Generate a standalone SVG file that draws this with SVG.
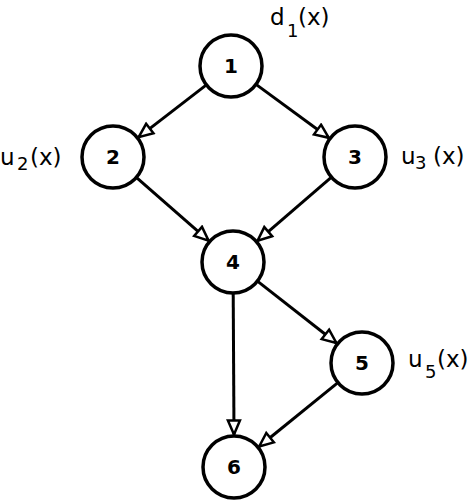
<svg xmlns="http://www.w3.org/2000/svg" width="474" height="502" viewBox="0 0 474 502">
<style>
.n circle{fill:#fff;stroke:#000;stroke-width:3.5}
.n text{font-family:"DejaVu Sans",sans-serif;font-weight:bold;font-size:20px;text-anchor:middle}
.e line{stroke:#000;stroke-width:3;marker-end:url(#a)}
.l text{font-family:"DejaVu Sans",sans-serif;font-size:23px}
.l text.s{font-size:18px}
</style>
<defs>
<marker id="a" markerUnits="userSpaceOnUse" viewBox="-2 -2 18 16" markerWidth="18" markerHeight="16" refX="14" refY="6" orient="auto">
<path d="M0,0 L14,6 L0,12 z" fill="#fff" stroke="#000" stroke-width="2.5"/>
</marker>
</defs>
<g id="edges" class="e">
<line x1="206.4" y1="84.9" x2="138.7" y2="137.1"/>
<line x1="256" y1="84.4" x2="328.8" y2="137.8"/>
<line x1="136.3" y1="177.4" x2="208.6" y2="240.6"/>
<line x1="331.5" y1="177.2" x2="257.6" y2="240.8"/>
<line x1="257.4" y1="281.1" x2="336.4" y2="343"/>
<line x1="233.2" y1="293" x2="234" y2="434.5"/>
<line x1="337.9" y1="382.6" x2="259.2" y2="446.5"/>
</g>
<g id="node1" class="n"><circle cx="231" cy="66" r="31"/><text x="231" y="73">1</text></g>
<g id="node2" class="n"><circle cx="113" cy="157" r="31"/><text x="113" y="164">2</text></g>
<g id="node3" class="n"><circle cx="355" cy="157" r="31"/><text x="355" y="164">3</text></g>
<g id="node4" class="n"><circle cx="233" cy="262" r="31"/><text x="233" y="269">4</text></g>
<g id="node5" class="n"><circle cx="362" cy="363" r="31"/><text x="362" y="370">5</text></g>
<g id="node6" class="n"><circle cx="234" cy="467" r="31"/><text x="234" y="474">6</text></g>
<g id="labels" class="l">
<text x="270" y="25">d</text><text class="s" x="287" y="37">1</text><text x="298" y="25">(x)</text>
<text x="0" y="165">u</text><text class="s" x="17" y="170">2</text><text x="30" y="165">(x)</text>
<text x="401" y="164">u</text><text class="s" x="415" y="169">3</text><text x="433" y="164">(x)</text>
<text x="408" y="367">u</text><text class="s" x="425" y="378">5</text><text x="437" y="367">(x)</text>
</g>
</svg>
